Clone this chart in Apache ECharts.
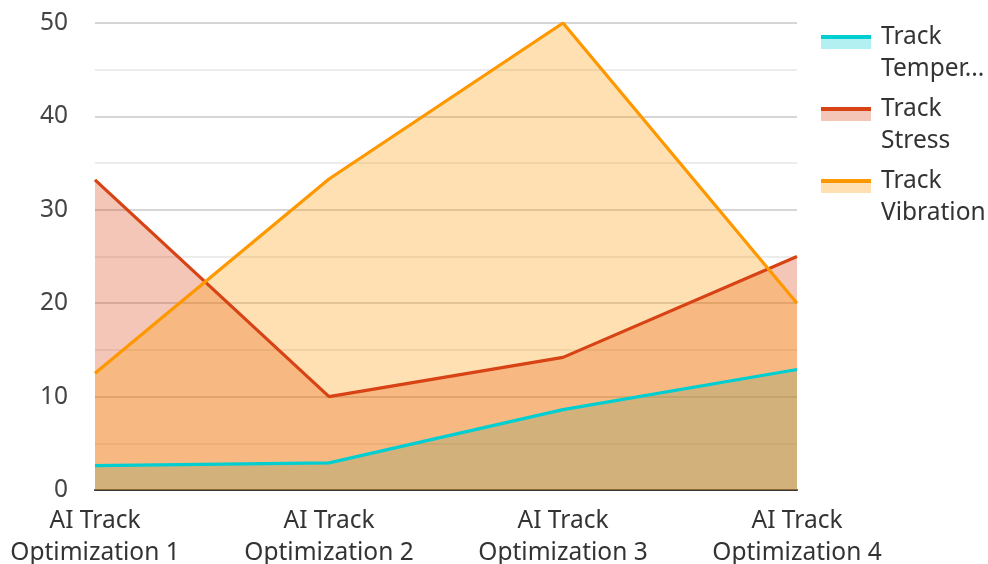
<!DOCTYPE html>
<html><head><meta charset="utf-8">
<script src="https://cdn.jsdelivr.net/npm/echarts@6/dist/echarts.min.js"></script>
<style>html,body{margin:0;padding:0;background:#fff}#c{width:988px;height:564px}</style>
</head><body><div id="c"></div>
<script>
const categories = ['AI Track Optimization 1','AI Track Optimization 2','AI Track Optimization 3','AI Track Optimization 4'];
const seriesNames = ['Track Temperature','Track Stress','Track Vibration'];
const temperature = [2.6, 2.9, 8.6, 12.9];
const stress = [33.2, 10.0, 14.2, 25.0];
const vibration = [12.5, 33.3, 50.0, 20.0];
const colors = ['#00CED1','#D84315','#FF9800'];
const yTicks = [0,10,20,30,40,50];

const chart = echarts.init(document.getElementById('c'));
const font = 'Noto Sans';
const data = [temperature, stress, vibration];
function light(hex,a){
  const r=parseInt(hex.slice(1,3),16),g=parseInt(hex.slice(3,5),16),b=parseInt(hex.slice(5,7),16);
  return 'rgba('+r+','+g+','+b+','+a+')';
}
const iconPath = 'path://M0,0H50V14H0Z M55,36L55.01,36';
chart.setOption({
  animation:false,
  color: colors,
  grid:{left:95,right:191,top:23,bottom:74,containLabel:false,outerBoundsMode:'none'},
  legend:{
    orient:'vertical', left:821, top:21, padding:0, itemGap:8, itemWidth:55, itemHeight:36,
    icon: iconPath,
    data: seriesNames.map((n,i)=>({name:n,icon:iconPath,itemStyle:{color:new echarts.graphic.LinearGradient(0,0,0,1,[
      {offset:0,color:colors[i]},{offset:0.1,color:colors[i]},
      {offset:0.1,color:light(colors[i],0.3)},{offset:0.39,color:light(colors[i],0.3)},
      {offset:0.39,color:'rgba(255,255,255,0)'},{offset:1,color:'rgba(255,255,255,0)'}])}})),
    textStyle:{fontFamily:font,fontSize:24.5,color:'#333',lineHeight:32},
    formatter:function(n){
      const parts=n.split(' ');
      let second=parts.slice(1).join(' ');
      if(second.length>9) second=second.slice(0,6)+'...';
      return parts[0]+'\n'+second;
    }
  },
  xAxis:{type:'category',data:categories,boundaryGap:false,
    axisLine:{lineStyle:{color:'#333',width:2}},axisTick:{show:false},
    axisLabel:{fontFamily:font,fontSize:24.5,color:'#333',lineHeight:32,margin:15,interval:0,
      formatter:function(v){const i=v.lastIndexOf(' Optimization');return v.slice(0,i)+'\n'+v.slice(i+1);}}
  },
  yAxis:{type:'value',min:yTicks[0],max:yTicks[yTicks.length-1],interval:10,
    axisLine:{show:false},axisTick:{show:false},
    axisLabel:{fontFamily:font,fontSize:24.5,color:'#444',margin:27},
    splitLine:{lineStyle:{color:'#c8c8c8',width:1.5}},
    minorTick:{show:false,splitNumber:2},
    minorSplitLine:{show:true,lineStyle:{color:'#e6e6e6',width:1.5}}
  },
  series: seriesNames.map((n,i)=>({
    name:n,type:'line',data:data[i],symbol:'none',
    lineStyle:{width:3.2,color:colors[i]},
    areaStyle:{color:colors[i],opacity:0.3}
  }))
});
</script></body></html>
